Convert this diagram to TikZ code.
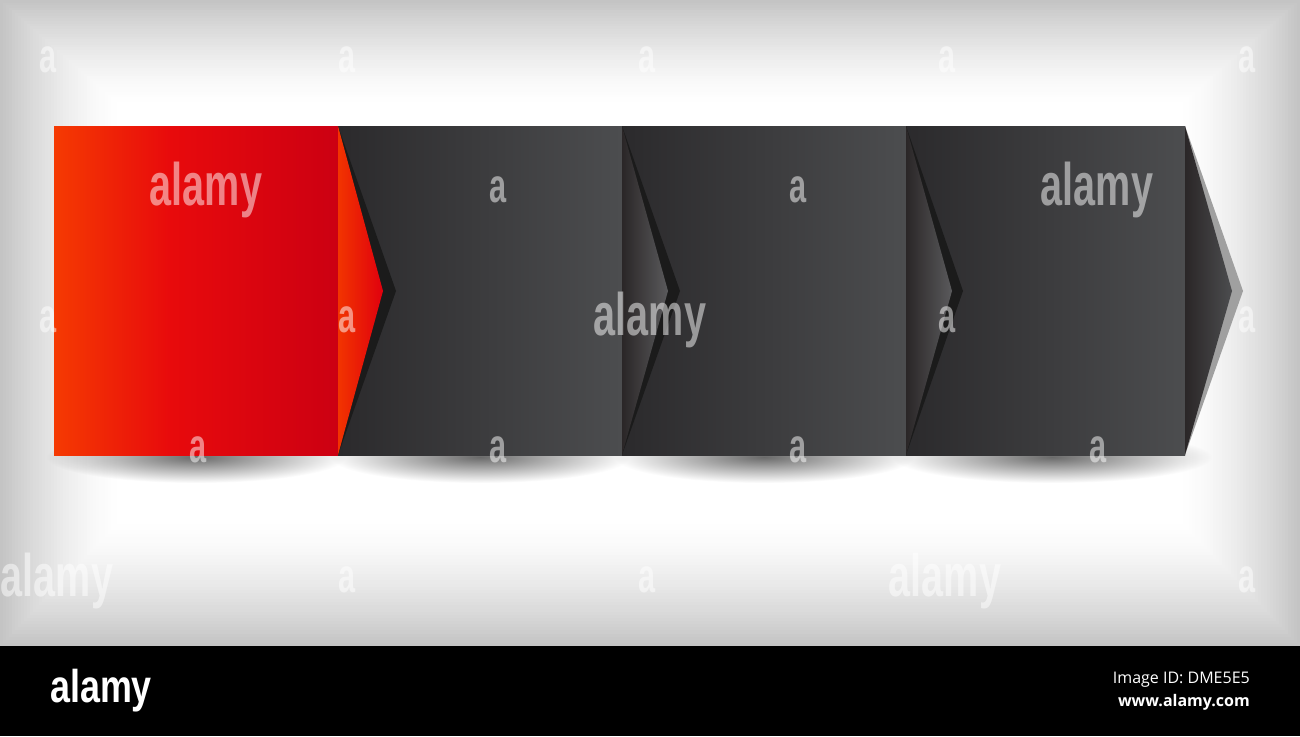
\documentclass[tikz,border=0pt]{standalone}
\usepackage{fontspec}
\newfontfamily\wmfont{Liberation Sans}
\newfontfamily\idfont{Open Sans}
\definecolor{bgedge}{HTML}{C4C4C4}
\definecolor{redL}{HTML}{F53A02}
\definecolor{redM}{HTML}{E80A0C}
\definecolor{redR}{HTML}{CC0012}
\definecolor{tipRedL}{HTML}{F23400}
\definecolor{tipRedR}{HTML}{E0000E}
\definecolor{darkL}{HTML}{2B2A2C}
\definecolor{darkR}{HTML}{4C4D4F}
\definecolor{tipDL}{HTML}{2A2627}
\definecolor{tipDR}{HTML}{5A5A5C}
\definecolor{chevShadow}{HTML}{1B1B1B}
\definecolor{endShadow}{HTML}{A0A0A0}
\definecolor{floorShadow}{HTML}{6A6A6A}
\tikzset{
  redboxA/.style={left color=redL, right color=redM},
  redboxB/.style={left color=redM, right color=redR},
  redtip/.style={left color=tipRedL, right color=tipRedR},
  darkbox/.style={left color=darkL, right color=darkR},
  darktip/.style={left color=tipDL, right color=tipDR},
  chevshadow/.style={fill=chevShadow},
  floorshadow/.style={inner color=floorShadow, outer color=white},
  wmbig/.style={text=white, text opacity=0.5, anchor=base, inner sep=0pt, xscale=0.66,
    font=\wmfont\bfseries\fontsize{60}{60}\selectfont},
  wmsmall/.style={text=white, text opacity=0.5, anchor=base, inner sep=0pt, xscale=0.64,
    font=\wmfont\bfseries\fontsize{48}{48}\selectfont},
}
\begin{document}
\begin{tikzpicture}[x=1pt,y=-1pt]
\useasboundingbox (0,0) rectangle (1300,736);
% background vignette: stacked rectangles from the edge inwards
\foreach \i in {0,...,40}{
  \pgfmathsetmacro\t{\i/40}
  \pgfmathsetmacro\p{100*(1-\t)^1.5}
  \fill[bgedge!\p!white] (120*\t,105*\t) rectangle (1300-120*\t,646-125*\t);
}
% floor shadows
\begin{scope}[blend mode=multiply]
\shade[floorshadow] (196,457) ellipse (150 and 26);
\shade[floorshadow] (480,457) ellipse (150 and 26);
\shade[floorshadow] (764,457) ellipse (150 and 26);
\shade[floorshadow] (1052,457) ellipse (160 and 26);
\end{scope}
% boxes
\shade[redboxA] (54,126) rectangle (171,455);
\shade[redboxB] (170,126) rectangle (338,455);
\shade[darkbox] (338,126) rectangle (622,455);
\shade[darkbox] (622,126) rectangle (906,455);
\shade[darkbox] (906,126) rectangle (1185,455);
% chevron tips with shadows
\fill[chevshadow] (338,126) -- (396,291) -- (338,455) -- cycle;
\shade[redtip] (338,126) -- (383,291) -- (338,455) -- cycle;
\fill[chevshadow] (622,126) -- (680,291) -- (622,455) -- cycle;
\shade[darktip] (622,126) -- (668,291) -- (622,455) -- cycle;
\fill[chevshadow] (906,126) -- (963,291) -- (906,455) -- cycle;
\shade[darktip] (906,126) -- (952,291) -- (906,455) -- cycle;
\fill[endShadow] (1185,126) -- (1243,291) -- (1185,455) -- cycle;
\shade[left color=tipDL, right color=darkR] (1185,126) -- (1232,291) -- (1185,455) -- cycle;
% watermarks
\node[wmbig] (w1) at (206,205) {alamy};
\node[wmbig] (w2) at (1097,205) {alamy};
\node[wmbig] (w3) at (650,335) {alamy};
\node[wmbig] (w4) at (57,596) {alamy};
\node[wmbig] (w5) at (945,596) {alamy};
\foreach \px/\py [count=\i] in {48/72,347/72,647/72,947/72,1247/72,
    498/202,798/202,
    48/332,347/332,947/332,1247/332,
    198/462,498/462,798/462,1098/462,
    347/592,647/592,1247/592}
  \node[wmsmall] (a\i) at (\px,\py) {a};
% bottom bar
\fill[black] (0,646) rectangle (1300,736);
\node[text=white, anchor=base, inner sep=0pt, xscale=0.78,
  font=\wmfont\bfseries\fontsize{46}{46}\selectfont] (logo) at (101,702) {alamy};
\node[text=white, anchor=base east, inner sep=0pt,
  font=\idfont\fontsize{16}{16}\selectfont] (imgid) at (1250,683) {Image ID: DME5E5};
\node[text=white, anchor=base east, inner sep=0pt,
  font=\idfont\bfseries\fontsize{16}{16}\selectfont] (url) at (1250,706) {www.alamy.com};
\end{tikzpicture}
\end{document}
